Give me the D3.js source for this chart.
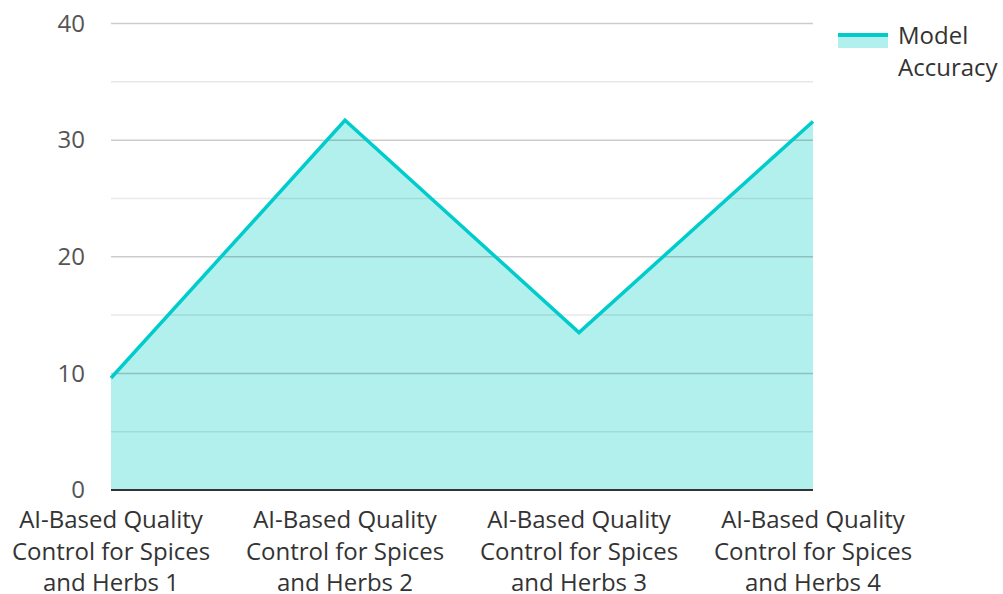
<!DOCTYPE html>
<html><head><meta charset="utf-8">
<script src="https://cdn.jsdelivr.net/npm/d3@7"></script>
<style>body{margin:0;background:#fff;} svg{display:block;font-family:"Open Sans",sans-serif;}</style>
</head><body>
<svg id="c" width="1003" height="594"></svg>
<script>
const categories = ["AI-Based Quality Control for Spices and Herbs 1","AI-Based Quality Control for Spices and Herbs 2","AI-Based Quality Control for Spices and Herbs 3","AI-Based Quality Control for Spices and Herbs 4"];
const categoryLines = [["AI-Based Quality","Control for Spices","and Herbs 1"],["AI-Based Quality","Control for Spices","and Herbs 2"],["AI-Based Quality","Control for Spices","and Herbs 3"],["AI-Based Quality","Control for Spices","and Herbs 4"]];
const accuracy = [9.6, 31.7, 13.5, 31.6];
const majorTicks = [0,10,20,30,40];
const minorTicks = [5,15,25,35];
const seriesName = ["Model","Accuracy"];

const svg = d3.select("#c");
const x = d3.scalePoint().domain(categories).range([111, 813]);
const y = d3.scaleLinear().domain([0, 40]).range([490, 23.5]);

const data = categories.map((c,i)=>({c, v: accuracy[i]}));

// area
svg.append("path").datum(data)
  .attr("fill", "#b2f0ee")
  .attr("d", d3.area().x(d=>x(d.c)).y0(y(0)).y1(d=>y(d.v)));

// grid
svg.append("g").selectAll("line").data(minorTicks).join("line")
  .attr("x1",111).attr("x2",813).attr("y1",d=>y(d)).attr("y2",d=>y(d))
  .attr("stroke","rgba(0,0,0,0.09)").attr("stroke-width",1.5);
svg.append("g").selectAll("line").data(majorTicks.filter(d=>d>0)).join("line")
  .attr("x1",111).attr("x2",813).attr("y1",d=>y(d)).attr("y2",d=>y(d))
  .attr("stroke","rgba(0,0,0,0.2)").attr("stroke-width",1.5);

// line
svg.append("path").datum(data)
  .attr("fill","none").attr("stroke","#00cccc").attr("stroke-width",3.5)
  .attr("stroke-linejoin","miter")
  .attr("d", d3.line().x(d=>x(d.c)).y(d=>y(d.v)));

// x axis line
svg.append("line").attr("x1",111).attr("x2",813).attr("y1",y(0)).attr("y2",y(0))
  .attr("stroke","#333").attr("stroke-width",2);

// y tick labels
const yAxis = d3.axisLeft(y).tickValues(majorTicks).tickSize(0).tickPadding(0);
const ya = svg.append("g").attr("transform","translate(85,0)").call(yAxis);
ya.select(".domain").remove();
ya.selectAll("text").attr("font-size",24).attr("fill","#555").attr("font-family","Open Sans");

// x labels
const xl = svg.append("g").selectAll("text").data(categories).join("text")
  .attr("x", d=>x(d)).attr("y", 528).attr("text-anchor","middle")
  .attr("font-size",24).attr("fill","#333");
xl.each(function(d,i){
  d3.select(this).selectAll("tspan").data(categoryLines[i]).join("tspan")
    .attr("x", x(d)).attr("dy",(t,j)=>j===0?0:31.5).text(t=>t);
});

// legend
svg.append("rect").attr("x",838).attr("y",35).attr("width",50).attr("height",13).attr("fill","#b2f0ee");
svg.append("line").attr("x1",838).attr("x2",888).attr("y1",35).attr("y2",35).attr("stroke","#00cccc").attr("stroke-width",4);
svg.append("text").attr("x",898).attr("y",44).attr("font-size",24).attr("fill","#333")
  .selectAll("tspan").data(seriesName).join("tspan").attr("x",898).attr("dy",(t,j)=>j===0?0:32).text(t=>t);
</script>
</body></html>
